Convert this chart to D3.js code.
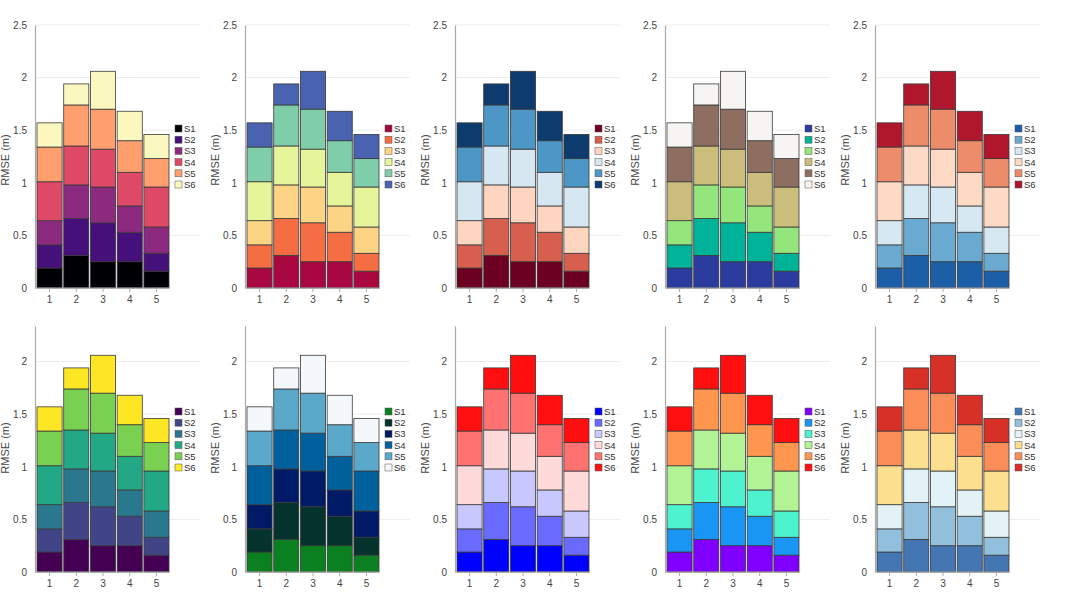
<!DOCTYPE html>
<html><head><meta charset="utf-8">
<script src="https://cdn.jsdelivr.net/npm/d3@7"></script>
<style>body{margin:0;background:#fff}text{font-family:"Liberation Sans",Arial,sans-serif}</style>
</head><body><svg id="c" width="1080" height="608"></svg>
<script>
const categories = ["1","2","3","4","5"];
const seriesNames = ["S1","S2","S3","S4","S5","S6"];
const S1 = [0.19,0.31,0.25,0.25,0.16];
const S2 = [0.22,0.35,0.37,0.28,0.17];
const S3 = [0.23,0.32,0.34,0.25,0.25];
const S4 = [0.37,0.37,0.36,0.32,0.38];
const S5 = [0.33,0.39,0.38,0.30,0.27];
const S6 = [0.23,0.20,0.36,0.28,0.23];
const seriesValues = [S1,S2,S3,S4,S5,S6];
const yTicksTop = [0,0.5,1,1.5,2,2.5];
const yTicksBottom = [0,0.5,1,1.5,2];
const palettes = [
 ["#000004","#45107a","#8c2a80","#de4968","#fe9f6d","#fbf8bf"],
 ["#a8083f","#f46d43","#fdd484","#e6f59a","#7fcda9","#4a63b0"],
 ["#6b0020","#d6604d","#fdd5c0","#d6e7f1","#4c97c6","#0d3b6e"],
 ["#2c3c9e","#00b398","#94e67c","#cbbd7b","#8e6e60","#f7f5f3"],
 ["#1c5fa6","#6aaad0","#d6e8f2","#fcdac6","#ec8c6a","#b0172d"],
 ["#440154","#414487","#2a788e","#22a884","#7ad151","#fde725"],
 ["#0a8020","#03332c","#001a66","#00609c","#5aa9cb","#f4f8fb"],
 ["#0000ff","#6a6aff","#c8c8ff","#ffdada","#ff7272","#ff0f0f"],
 ["#8000ff","#1996f3","#4df3ce","#b2f396","#ff964f","#ff0f0f"],
 ["#4476b4","#92c0dc","#e2f2f6","#fde08f","#fb8d59","#d63027"]
];
const svg = d3.select("#c");
const stacked = categories.map((c,i)=>{let acc=0;return seriesValues.map(s=>{const y0=acc;acc+=s[i];return [y0,acc];});});
palettes.forEach((pal,p)=>{
  const row = Math.floor(p/5), col = p%5;
  const x0 = 35 + 210*col;
  const yBase = row===0?288:572;
  const yMax = row===0?2.5:2.34;
  const y = d3.scaleLinear().domain([0,yMax]).range([yBase, yBase-105.2*yMax]);
  const x = d3.scaleBand().domain(categories).range([x0+2,x0+134]).paddingInner(0.06).paddingOuter(0);
  const g = svg.append("g");
  const ticks = row===0?yTicksTop:yTicksBottom;
  g.selectAll(".grid").data(ticks.filter(t=>t>0)).join("line")
    .attr("x1",x0).attr("x2",x0+165).attr("y1",d=>y(d)).attr("y2",d=>y(d))
    .attr("stroke","#ececec");
  categories.forEach((c,i)=>{
    stacked[i].forEach((d,s)=>{
      g.append("rect").attr("x",x(c)).attr("width",x.bandwidth())
        .attr("y",y(d[1])).attr("height",y(d[0])-y(d[1]))
        .attr("fill",pal[s]).attr("stroke","#3a3a3a").attr("stroke-width",0.8);
    });
  });
  const ya = g.append("g").attr("transform",`translate(${x0},0)`)
    .call(d3.axisLeft(y).tickValues(ticks).tickFormat(d3.format("~g")).tickSize(0).tickPadding(8));
  ya.select(".domain").attr("stroke","#aaa").attr("stroke-width",1.2);
  ya.selectAll("text").attr("font-size",10).attr("fill","#444");
  const xa = g.append("g").attr("transform",`translate(0,${yBase})`)
    .call(d3.axisBottom(x).tickSize(4).tickPadding(4));
  xa.select(".domain").attr("d",`M${x0},0H${x0+135}`).attr("stroke","#aaa").attr("stroke-width",1.2);
  xa.selectAll("line").attr("stroke","#aaa");
  xa.selectAll("text").attr("font-size",10).attr("fill","#444");
  g.append("text").attr("transform",`translate(${x0-26},${row===0?160:448}) rotate(-90)`)
    .attr("text-anchor","middle").attr("font-size",11).attr("fill","#444").text("RMSE (m)");
  const ly = row===0?129:412;
  seriesNames.forEach((n,s)=>{
    g.append("rect").attr("x",x0+140).attr("y",ly+s*11.2-4).attr("width",7).attr("height",7)
      .attr("fill",pal[s]).attr("stroke","#555").attr("stroke-width",0.5);
    g.append("text").attr("x",x0+149).attr("y",ly+s*11.2+3).attr("font-size",9.5).attr("fill","#333").text(n);
  });
});
</script></body></html>
